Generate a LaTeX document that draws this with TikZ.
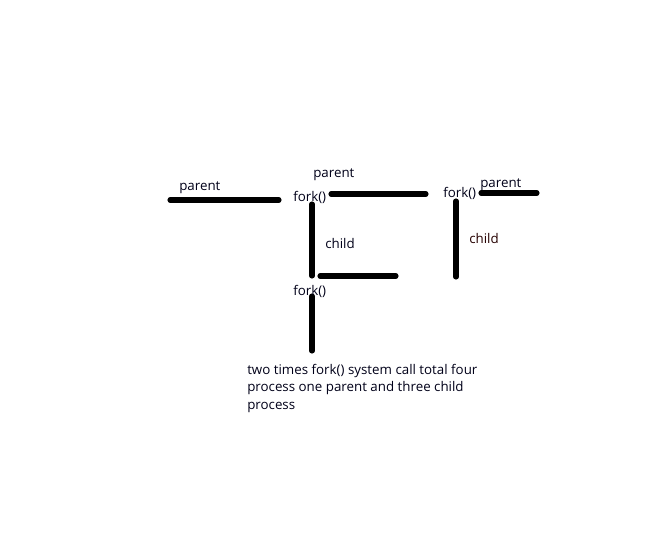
\documentclass[tikz,border=0pt]{standalone}
\usepackage{fontspec}
\setmainfont{Open Sans}
\begin{document}
\begin{tikzpicture}[x=0.75pt,y=-0.75pt,
  bar/.style={line width=3.8pt,line cap=round,black},
  lbl/.style={inner sep=0pt,font=\fontsize{10}{13}\selectfont,text=black!90!blue},
  lblc/.style={lbl,text=black!85!red}]
\useasboundingbox[fill=white] (0,0) rectangle (650,547);
% coordinates
\coordinate (a1) at (170,200);
\coordinate (a2) at (279,200);
\coordinate (b1) at (331,194);
\coordinate (b2) at (426,194);
\coordinate (v1a) at (312,204);
\coordinate (v1b) at (312,276);
\coordinate (h2a) at (320,276);
\coordinate (h2b) at (396,276);
\coordinate (v2a) at (312,296);
\coordinate (v2b) at (312,351);
\coordinate (c1) at (481,193);
\coordinate (c2) at (537,193);
\coordinate (v3a) at (456,201);
\coordinate (v3b) at (456,277);
% lines
\draw[bar] (a1) -- (a2);
\draw[bar] (b1) -- (b2);
\draw[bar] (v1a) -- (v1b);
\draw[bar] (h2a) -- (h2b);
\draw[bar] (v2a) -- (v2b);
\draw[bar] (c1) -- (c2);
\draw[bar] (v3a) -- (v3b);
% labels
\node[lbl,anchor=west] (p1) at (179,188) {parent};
\node[lbl,anchor=west] (f1) at (293,197) {fork()};
\node[lbl,anchor=west] (p2) at (313,175) {parent};
\node[lbl,anchor=west] (ch1) at (325,243) {child};
\node[lbl,anchor=west] (f2) at (293,291) {fork()};
\node[lbl,anchor=west] (f3) at (443,193) {fork()};
\node[lbl,anchor=west] (p3) at (480,185) {parent};
\node[lblc,anchor=west] (ch2) at (469,238) {child};
\node[lbl,anchor=north west,align=left,font=\fontsize{10}{13.1}\selectfont] (note) at (247,364)
  {two times fork() system call total four\\process one parent and three child\\process};
\end{tikzpicture}
\end{document}
